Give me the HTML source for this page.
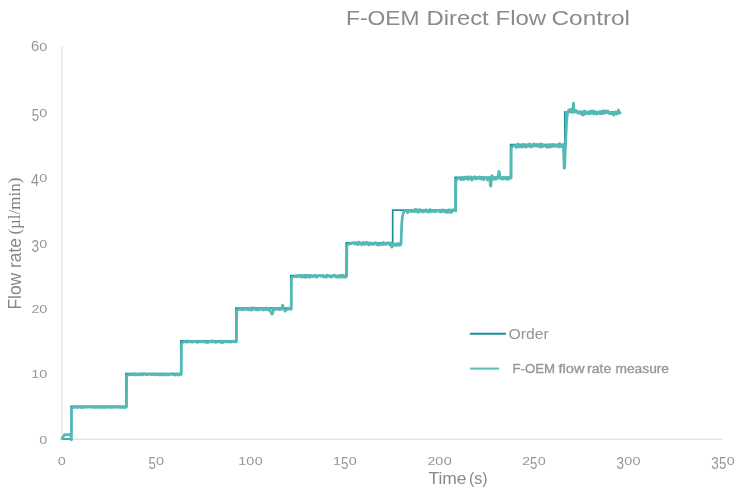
<!DOCTYPE html>
<html><head><meta charset="utf-8"><style>
html,body{margin:0;padding:0;background:#fff;width:748px;height:497px;overflow:hidden}
svg{display:block;will-change:transform}
.d{font-family:"Liberation Sans","DejaVu Sans",sans-serif;fill:#969696}
.title{font-family:"Liberation Sans","DejaVu Sans",sans-serif;font-size:19.5px;fill:#8a8a8a}
.axt{font-family:"Liberation Sans","DejaVu Sans",sans-serif;font-size:16.2px;fill:#8a8a8a}
.axt2{font-family:"Liberation Sans","DejaVu Sans",sans-serif;font-size:17.5px;fill:#8a8a8a}
.axs{font-family:"Liberation Serif","DejaVu Serif",serif;font-size:17.5px;fill:#808080}
.legb{font-family:"Liberation Sans","DejaVu Sans",sans-serif;font-size:13.6px;fill:#949494;stroke:#999;stroke-width:0.35px}
.leg{font-family:"Liberation Sans","DejaVu Sans",sans-serif;font-size:14.5px;fill:#949494}
</style></head><body>
<svg width="748" height="497" viewBox="0 0 748 497">
<text x="346.00" y="25" class="title" textLength="73.49" lengthAdjust="spacingAndGlyphs">F-OEM</text><text x="426.50" y="25" class="title" textLength="62.15" lengthAdjust="spacingAndGlyphs">Direct</text><text x="495.50" y="25" class="title" textLength="50.65" lengthAdjust="spacingAndGlyphs">Flow</text><text x="551.50" y="25" class="title" textLength="78.55" lengthAdjust="spacingAndGlyphs">Control</text>
<line x1="61.9" y1="46.5" x2="61.9" y2="439" stroke="#d9d9d9" stroke-width="1"/>
<line x1="61.5" y1="439.2" x2="722.8" y2="439.2" stroke="#d9d9d9" stroke-width="1"/>
<text class="d" font-size="11.30" transform="matrix(1.277 0 0 1 39.34 443.89)">0</text><text class="d" font-size="11.63" transform="matrix(1.237 0 0 1 31.20 378.10)">1</text><text class="d" font-size="11.30" transform="matrix(1.277 0 0 1 39.34 378.49)">0</text><text class="d" font-size="11.46" transform="matrix(1.226 0 0 1 31.39 313.20)">2</text><text class="d" font-size="11.30" transform="matrix(1.277 0 0 1 39.34 313.09)">0</text><text class="d" font-size="16.10" transform="matrix(0.838 0 0 1 31.59 251.64)">3</text><text class="d" font-size="11.30" transform="matrix(1.277 0 0 1 39.34 247.69)">0</text><text class="d" font-size="16.57" transform="matrix(0.862 0 0 1 30.97 186.40)">4</text><text class="d" font-size="11.30" transform="matrix(1.277 0 0 1 39.34 182.29)">0</text><text class="d" font-size="16.34" transform="matrix(0.813 0 0 1 31.67 120.84)">5</text><text class="d" font-size="11.30" transform="matrix(1.277 0 0 1 39.34 116.89)">0</text><text class="d" font-size="15.54" transform="matrix(0.949 0 0 1 30.95 51.45)">6</text><text class="d" font-size="11.30" transform="matrix(1.277 0 0 1 39.34 51.49)">0</text>
<text class="d" font-size="11.30" transform="matrix(1.277 0 0 1 57.79 465.09)">0</text><text class="d" font-size="16.34" transform="matrix(0.813 0 0 1 148.42 469.04)">5</text><text class="d" font-size="11.30" transform="matrix(1.277 0 0 1 156.09 465.09)">0</text><text class="d" font-size="11.63" transform="matrix(1.237 0 0 1 238.20 464.70)">1</text><text class="d" font-size="11.30" transform="matrix(1.277 0 0 1 246.34 465.09)">0</text><text class="d" font-size="11.30" transform="matrix(1.277 0 0 1 254.64 465.09)">0</text><text class="d" font-size="11.63" transform="matrix(1.237 0 0 1 332.95 464.70)">1</text><text class="d" font-size="16.34" transform="matrix(0.813 0 0 1 341.12 469.04)">5</text><text class="d" font-size="11.30" transform="matrix(1.277 0 0 1 348.79 465.09)">0</text><text class="d" font-size="11.46" transform="matrix(1.226 0 0 1 427.39 465.20)">2</text><text class="d" font-size="11.30" transform="matrix(1.277 0 0 1 435.34 465.09)">0</text><text class="d" font-size="11.30" transform="matrix(1.277 0 0 1 443.64 465.09)">0</text><text class="d" font-size="11.46" transform="matrix(1.226 0 0 1 522.14 465.20)">2</text><text class="d" font-size="16.34" transform="matrix(0.813 0 0 1 530.12 469.04)">5</text><text class="d" font-size="11.30" transform="matrix(1.277 0 0 1 537.79 465.09)">0</text><text class="d" font-size="16.10" transform="matrix(0.838 0 0 1 616.49 469.04)">3</text><text class="d" font-size="11.30" transform="matrix(1.277 0 0 1 624.24 465.09)">0</text><text class="d" font-size="11.30" transform="matrix(1.277 0 0 1 632.54 465.09)">0</text><text class="d" font-size="16.10" transform="matrix(0.838 0 0 1 711.24 469.04)">3</text><text class="d" font-size="16.34" transform="matrix(0.813 0 0 1 719.02 469.04)">5</text><text class="d" font-size="11.30" transform="matrix(1.277 0 0 1 726.69 465.09)">0</text>
<text transform="translate(21.0 309.6) rotate(-90)" class="axt2" textLength="71.6" lengthAdjust="spacingAndGlyphs">Flow rate</text>
<text transform="translate(20.3 234.6) rotate(-90)" class="axs" textLength="57" lengthAdjust="spacingAndGlyphs">(µl/min)</text>
<text x="428.50" y="483.6" class="axt" textLength="38.06" lengthAdjust="spacingAndGlyphs">Time</text><text x="469.00" y="483.6" class="axt" textLength="18.68" lengthAdjust="spacingAndGlyphs">(s)</text>
<path d="M61.8 439.0H71.2V406.3H126.0V373.6H180.8V340.9H236.0V308.2H290.8V275.5H346.2V242.8H392.7V210.1H455.2V177.4H510.6V144.7H564.8V112.0H620.0" fill="none" stroke="#1b91a0" stroke-width="1.7"/>
<path d="M62.00 438.70 L64.60 434.60 L65.40 434.58 L66.20 434.62 L67.00 434.77 L67.80 434.59 L68.60 434.60 L69.40 434.63 L70.20 434.47 L71.00 434.70 L71.40 439.80 L71.55 408.80 L72.45 407.95 L73.35 407.53 L74.25 407.31 L75.15 407.21 L76.05 407.20 L76.55 406.68 L77.05 407.26 L77.55 407.58 L78.05 406.99 L78.55 406.95 L79.05 406.81 L79.55 407.14 L80.05 407.23 L80.55 407.13 L81.05 407.57 L81.55 406.86 L82.05 406.84 L82.55 407.42 L83.05 407.17 L83.55 407.49 L84.05 406.96 L84.55 407.15 L85.05 407.15 L85.55 406.69 L86.05 406.79 L86.55 407.06 L87.05 407.21 L87.55 406.75 L88.05 407.11 L88.55 406.98 L89.05 407.14 L89.55 406.87 L90.05 406.95 L90.55 406.77 L91.05 407.12 L91.55 407.10 L92.05 407.19 L92.55 406.89 L93.05 407.20 L93.55 407.30 L94.05 407.52 L94.55 406.85 L95.05 407.41 L95.55 407.02 L96.05 406.93 L96.55 406.75 L97.05 407.32 L97.55 407.22 L98.05 406.83 L98.55 406.86 L99.05 406.90 L99.55 407.51 L100.05 406.97 L100.55 406.90 L101.05 407.35 L101.55 407.10 L102.05 407.36 L102.55 407.41 L103.05 407.40 L103.55 407.13 L104.05 407.41 L104.55 407.40 L105.05 407.06 L105.55 406.95 L106.05 407.39 L106.55 407.27 L107.05 407.30 L107.55 406.79 L108.05 406.96 L108.55 407.22 L109.05 406.75 L109.55 406.91 L110.05 407.29 L110.55 406.95 L111.05 407.21 L111.55 407.36 L112.05 406.89 L112.55 407.46 L113.05 407.29 L113.55 406.95 L114.05 407.07 L114.55 407.16 L115.05 406.87 L115.55 407.30 L116.05 407.17 L116.55 406.67 L117.05 406.78 L117.55 406.78 L118.05 407.13 L118.55 407.46 L119.05 406.81 L119.55 406.80 L120.05 406.79 L120.55 407.27 L121.05 407.32 L121.55 407.39 L122.05 407.16 L122.55 407.25 L123.05 407.30 L123.55 407.44 L124.05 407.01 L124.55 407.18 L125.05 407.60 L125.55 407.15 L126.50 407.10 L126.50 407.10 L126.65 376.20 L127.55 375.30 L128.45 374.85 L129.35 374.63 L130.25 374.51 L131.15 374.87 L131.65 373.98 L132.15 374.51 L132.65 374.66 L133.15 374.11 L133.65 373.93 L134.15 374.79 L134.65 374.99 L135.15 373.91 L135.65 374.31 L136.15 374.55 L136.65 374.28 L137.15 374.82 L137.65 374.90 L138.15 374.11 L138.65 374.50 L139.15 374.48 L139.65 374.52 L140.15 373.95 L140.65 374.92 L141.15 374.23 L141.65 374.84 L142.15 374.16 L142.65 374.80 L143.15 373.74 L143.65 374.48 L144.15 374.47 L144.65 373.95 L145.15 374.09 L145.65 374.26 L146.15 374.01 L146.65 374.66 L147.15 374.54 L147.65 374.87 L148.15 374.29 L148.65 374.40 L149.15 374.02 L149.65 374.14 L150.15 374.29 L150.65 374.21 L151.15 374.29 L151.65 374.75 L152.15 374.72 L152.65 373.83 L153.15 373.96 L153.65 374.25 L154.15 374.37 L154.65 374.56 L155.15 374.92 L155.65 374.22 L156.15 374.21 L156.65 374.61 L157.15 374.40 L157.65 373.99 L158.15 374.14 L158.65 374.76 L159.15 374.34 L159.65 374.90 L160.15 374.98 L160.65 374.81 L161.15 374.93 L161.65 374.71 L162.15 373.91 L162.65 373.91 L163.15 374.58 L163.65 374.57 L164.15 374.44 L164.65 375.01 L165.15 374.66 L165.65 374.51 L166.15 374.06 L166.65 374.07 L167.15 374.82 L167.65 375.05 L168.15 374.50 L168.65 374.43 L169.15 374.71 L169.65 374.10 L170.15 374.08 L170.65 374.41 L171.15 374.26 L171.65 374.19 L172.15 373.69 L172.65 374.10 L173.15 374.73 L173.65 374.89 L174.15 374.78 L174.65 374.80 L175.15 374.90 L175.65 375.01 L176.15 374.04 L176.65 373.97 L177.15 374.06 L177.65 374.31 L178.15 374.42 L178.65 375.12 L179.15 374.14 L179.65 374.68 L180.15 374.25 L181.30 374.40 L181.30 374.40 L181.45 343.60 L182.35 342.65 L183.25 342.18 L184.15 341.94 L185.05 341.82 L185.95 341.98 L186.45 341.39 L186.95 342.20 L187.45 341.00 L187.95 341.71 L188.45 341.05 L188.95 341.77 L189.45 341.49 L189.95 341.98 L190.45 341.39 L190.95 341.90 L191.45 341.46 L191.95 342.03 L192.45 342.04 L192.95 341.38 L193.45 341.84 L193.95 341.85 L194.45 341.38 L194.95 341.22 L195.45 341.62 L195.95 341.21 L196.45 341.78 L196.95 342.17 L197.45 342.42 L197.95 341.94 L198.45 341.92 L198.95 341.26 L199.45 341.43 L199.95 341.45 L200.45 341.92 L200.95 341.55 L201.45 341.22 L201.95 341.98 L202.45 341.84 L202.95 341.71 L203.45 341.42 L203.95 341.07 L204.45 341.97 L204.95 341.46 L205.45 341.93 L205.95 342.38 L206.45 341.93 L206.95 342.34 L207.45 342.19 L207.95 342.49 L208.45 341.98 L208.95 342.03 L209.45 341.55 L209.95 341.28 L210.45 341.71 L210.95 340.89 L211.45 341.87 L211.95 341.15 L212.45 341.87 L212.95 341.06 L213.45 341.91 L213.95 341.06 L214.45 341.98 L214.95 342.00 L215.45 342.31 L215.95 341.94 L216.45 341.34 L216.95 342.05 L217.45 341.83 L217.95 341.59 L218.45 341.73 L218.95 341.88 L219.45 341.08 L219.95 342.24 L220.45 342.26 L220.95 341.15 L221.45 342.39 L221.95 341.15 L222.45 341.16 L222.95 342.48 L223.45 341.53 L223.95 342.21 L224.45 341.35 L224.95 341.32 L225.45 341.20 L225.95 341.69 L226.45 341.73 L226.95 341.98 L227.45 341.65 L227.95 341.89 L228.45 341.65 L228.95 342.01 L229.45 341.39 L229.95 341.33 L230.45 341.69 L230.95 342.11 L231.45 341.80 L231.95 341.80 L232.45 341.34 L232.95 341.38 L233.45 341.54 L233.95 341.06 L234.45 341.29 L234.95 341.89 L235.45 342.00 L236.50 341.70 L236.50 341.70 L236.65 311.00 L237.55 310.00 L238.45 309.50 L239.35 309.25 L240.25 309.13 L241.15 308.56 L241.65 309.71 L242.15 309.06 L242.65 308.73 L243.15 308.31 L243.65 309.68 L244.15 308.80 L244.65 309.00 L245.15 308.79 L245.65 309.31 L246.15 308.81 L246.65 308.17 L247.15 309.14 L247.65 309.59 L248.15 308.46 L248.65 309.70 L249.15 309.19 L249.65 310.00 L250.15 308.46 L250.65 309.54 L251.15 309.39 L251.65 307.92 L252.15 310.08 L252.65 308.90 L253.15 309.01 L253.65 308.06 L254.15 308.41 L254.65 308.37 L255.15 309.10 L255.65 308.17 L256.15 309.77 L256.65 309.02 L257.15 309.53 L257.65 310.14 L258.15 308.85 L258.65 309.67 L259.15 309.01 L259.65 308.61 L260.15 309.55 L260.65 308.52 L261.15 308.38 L261.65 308.71 L262.15 308.81 L262.65 308.48 L263.15 309.98 L263.65 309.70 L264.15 308.72 L264.65 309.59 L265.15 308.65 L265.65 307.97 L266.15 308.70 L266.65 309.38 L267.15 308.66 L267.65 309.54 L268.15 309.92 L268.65 308.64 L269.15 309.65 L269.65 308.63 L270.15 310.56 L270.65 311.58 L271.15 312.09 L271.65 313.96 L272.15 314.12 L272.65 313.34 L273.15 310.90 L273.65 309.07 L274.15 309.39 L274.65 309.50 L275.15 308.68 L275.65 309.22 L276.15 308.56 L276.65 308.83 L277.15 308.92 L277.65 309.16 L278.15 309.16 L278.65 309.12 L279.15 309.52 L279.65 309.56 L280.15 308.86 L280.65 309.24 L281.15 309.45 L281.65 308.52 L282.15 306.79 L282.65 305.08 L283.15 307.30 L283.65 309.21 L284.15 309.36 L284.65 309.94 L285.15 311.12 L285.65 310.05 L286.15 309.98 L286.65 309.94 L287.15 309.31 L287.65 308.30 L288.15 308.24 L288.65 308.97 L289.15 308.34 L289.65 308.53 L290.15 309.45 L291.30 309.00 L291.30 309.00 L291.45 278.40 L292.35 277.35 L293.25 276.83 L294.15 276.56 L295.05 276.43 L295.95 275.88 L296.45 276.91 L296.95 276.87 L297.45 276.08 L297.95 275.83 L298.45 275.93 L298.95 275.52 L299.45 276.78 L299.95 275.71 L300.45 276.41 L300.95 276.35 L301.45 275.46 L301.95 275.49 L302.45 277.28 L302.95 276.37 L303.45 276.07 L303.95 275.85 L304.45 275.31 L304.95 276.09 L305.45 277.56 L305.95 275.41 L306.45 276.44 L306.95 275.05 L307.45 276.49 L307.95 275.57 L308.45 277.20 L308.95 276.68 L309.45 275.64 L309.95 277.08 L310.45 276.00 L310.95 275.31 L311.45 276.08 L311.95 275.96 L312.45 276.68 L312.95 276.22 L313.45 275.96 L313.95 276.14 L314.45 275.64 L314.95 275.22 L315.45 276.90 L315.95 276.28 L316.45 275.98 L316.95 277.22 L317.45 276.26 L317.95 275.76 L318.45 275.84 L318.95 275.58 L319.45 275.61 L319.95 275.39 L320.45 275.81 L320.95 276.23 L321.45 275.75 L321.95 275.85 L322.45 276.34 L322.95 275.45 L323.45 276.94 L323.95 276.41 L324.45 276.71 L324.95 276.88 L325.45 276.56 L325.95 276.20 L326.45 277.20 L326.95 275.21 L327.45 276.14 L327.95 275.29 L328.45 276.18 L328.95 276.16 L329.45 276.41 L329.95 276.77 L330.45 276.99 L330.95 277.05 L331.45 277.07 L331.95 276.78 L332.45 276.24 L332.95 276.07 L333.45 275.54 L333.95 275.47 L334.45 274.97 L334.95 276.42 L335.45 276.60 L335.95 276.95 L336.45 276.02 L336.95 276.08 L337.45 276.50 L337.95 277.20 L338.45 276.51 L338.95 276.92 L339.45 275.62 L339.95 275.30 L340.45 277.02 L340.95 275.67 L341.45 276.75 L341.95 277.08 L342.45 275.17 L342.95 276.81 L343.45 275.72 L343.95 276.07 L344.45 276.94 L344.95 276.33 L345.45 277.26 L346.70 276.30 L346.70 276.30 L346.85 245.80 L347.75 244.70 L348.65 244.15 L349.55 243.88 L350.45 243.74 L351.35 243.66 L351.85 242.92 L352.35 242.78 L352.85 242.92 L353.35 242.75 L353.85 242.90 L354.35 242.45 L354.85 244.03 L355.35 243.24 L355.85 243.20 L356.35 243.56 L356.85 242.78 L357.35 244.02 L357.85 244.71 L358.35 244.26 L358.85 242.06 L359.35 242.75 L359.85 242.85 L360.35 242.94 L360.85 244.08 L361.35 244.26 L361.85 244.85 L362.35 242.97 L362.85 244.16 L363.35 242.42 L363.85 243.37 L364.35 244.28 L364.85 243.41 L365.35 242.81 L365.85 244.10 L366.35 243.60 L366.85 242.38 L367.35 243.10 L367.85 243.29 L368.35 244.65 L368.85 243.11 L369.35 244.94 L369.85 243.07 L370.35 242.86 L370.85 244.23 L371.35 243.38 L371.85 243.91 L372.35 243.32 L372.85 244.47 L373.35 243.71 L373.85 244.10 L374.35 243.15 L374.85 243.88 L375.35 242.63 L375.85 244.17 L376.35 243.16 L376.85 244.16 L377.35 244.86 L377.85 243.12 L378.35 243.36 L378.85 245.00 L379.35 243.67 L379.85 244.38 L380.35 244.27 L380.85 244.03 L381.35 243.65 L381.85 244.04 L382.35 244.70 L382.85 244.20 L383.35 242.46 L383.85 242.73 L384.35 243.84 L384.85 243.68 L385.35 244.52 L385.85 243.31 L386.35 244.00 L386.85 242.99 L387.35 243.13 L387.85 243.74 L388.35 242.90 L388.85 242.83 L389.35 243.53 L389.85 244.98 L390.35 243.10 L390.85 242.86 L391.35 244.44 L391.85 247.15 L392.50 243.60 L393.20 244.33 L393.70 244.04 L394.20 245.27 L394.70 245.44 L395.20 244.28 L395.70 244.03 L396.20 245.39 L396.70 244.53 L397.20 243.70 L397.70 244.34 L398.20 245.26 L398.70 243.51 L399.20 244.17 L399.70 244.94 L400.20 245.14 L401.00 244.20 L401.30 236.26 L401.70 224.49 L402.30 217.29 L403.20 213.37 L404.40 211.08 L405.80 210.90 L406.60 210.68 L407.10 210.66 L407.60 212.84 L408.10 211.02 L408.60 211.45 L409.10 210.85 L409.60 210.36 L410.10 210.21 L410.60 210.90 L411.10 211.56 L411.60 210.72 L412.10 211.26 L412.60 210.34 L413.10 211.39 L413.60 210.71 L414.10 211.47 L414.60 209.72 L415.10 209.72 L415.60 211.32 L416.10 209.53 L416.60 211.29 L417.10 209.92 L417.60 212.02 L418.10 211.84 L418.60 210.02 L419.10 212.05 L419.60 209.69 L420.10 210.14 L420.60 211.17 L421.10 210.16 L421.60 210.13 L422.10 211.30 L422.60 212.07 L423.10 211.66 L423.60 211.20 L424.10 210.59 L424.60 210.33 L425.10 211.41 L425.60 210.72 L426.10 209.65 L426.60 210.84 L427.10 210.40 L427.60 211.74 L428.10 212.02 L428.60 210.50 L429.10 210.97 L429.60 210.79 L430.10 209.51 L430.60 211.86 L431.10 210.63 L431.60 210.52 L432.10 210.58 L432.60 211.38 L433.10 211.29 L433.60 211.48 L434.10 210.26 L434.60 210.89 L435.10 211.23 L435.60 211.82 L436.10 210.86 L436.60 210.41 L437.10 210.30 L437.60 210.34 L438.10 210.41 L438.60 210.84 L439.10 211.65 L439.60 210.96 L440.10 211.43 L440.60 210.77 L441.10 212.11 L441.60 210.53 L442.10 211.30 L442.60 209.77 L443.10 210.62 L443.60 210.96 L444.10 210.60 L444.60 212.12 L445.10 210.23 L445.60 210.54 L446.10 211.78 L446.60 210.87 L447.10 212.38 L447.60 210.85 L448.10 210.03 L448.60 209.96 L449.10 210.62 L449.60 212.48 L450.10 209.90 L450.60 210.27 L451.10 210.23 L451.60 212.38 L452.10 211.10 L452.60 210.85 L453.10 209.73 L453.60 210.63 L454.10 209.98 L454.60 209.98 L455.70 210.90 L455.70 210.90 L455.85 180.60 L456.75 179.40 L457.65 178.80 L458.55 178.50 L459.45 178.35 L460.35 178.26 L460.85 179.62 L461.35 178.56 L461.85 179.27 L462.35 177.52 L462.85 177.84 L463.35 178.16 L463.85 179.50 L464.35 177.94 L464.85 177.65 L465.35 177.01 L465.85 178.48 L466.35 177.61 L466.85 177.86 L467.35 179.00 L467.85 179.46 L468.35 176.76 L468.85 178.14 L469.35 177.47 L469.85 177.77 L470.35 178.84 L470.85 176.86 L471.35 179.58 L471.85 180.16 L472.35 178.97 L472.85 178.72 L473.35 178.53 L473.85 178.25 L474.35 177.86 L474.85 176.75 L475.35 178.81 L475.85 178.75 L476.35 177.69 L476.85 178.90 L477.35 177.58 L477.85 177.64 L478.35 177.86 L478.85 177.51 L479.35 176.99 L479.85 178.61 L480.35 178.44 L480.85 177.57 L481.35 177.12 L481.85 179.25 L482.35 178.17 L482.85 177.16 L483.35 179.32 L483.85 179.68 L484.35 177.70 L484.85 177.90 L485.35 177.91 L485.85 177.98 L486.35 177.70 L486.85 178.77 L487.35 180.05 L487.85 177.82 L488.35 178.92 L488.85 177.69 L489.35 179.19 L489.85 177.81 L490.35 185.59 L490.85 186.09 L491.35 179.30 L491.85 175.68 L492.35 176.39 L492.85 176.88 L493.35 179.31 L493.85 177.16 L494.35 178.31 L494.85 178.49 L495.35 178.22 L495.85 179.34 L496.35 177.22 L496.85 177.24 L497.35 176.88 L497.85 178.30 L498.35 175.75 L498.85 171.27 L499.35 172.37 L499.85 176.95 L500.35 178.39 L500.85 178.31 L501.35 178.16 L501.85 178.97 L502.35 179.07 L502.85 178.66 L503.35 177.45 L503.85 177.11 L504.35 178.74 L504.85 177.69 L505.35 178.05 L505.85 178.17 L506.35 178.30 L506.85 179.26 L507.35 177.07 L507.85 179.16 L508.35 179.26 L508.85 178.74 L509.35 178.27 L509.85 177.80 L511.10 178.20 L511.10 178.20 L511.25 148.00 L512.15 146.75 L513.05 146.13 L513.95 145.81 L514.85 145.66 L515.75 145.25 L516.25 147.57 L516.75 146.93 L517.25 146.42 L517.75 145.06 L518.25 143.89 L518.75 146.92 L519.25 146.54 L519.75 146.11 L520.25 146.15 L520.75 146.84 L521.25 145.73 L521.75 144.77 L522.25 146.82 L522.75 147.00 L523.25 144.53 L523.75 144.48 L524.25 146.44 L524.75 145.14 L525.25 144.87 L525.75 147.12 L526.25 147.01 L526.75 146.60 L527.25 144.79 L527.75 145.36 L528.25 145.82 L528.75 144.51 L529.25 144.11 L529.75 144.00 L530.25 146.94 L530.75 144.92 L531.25 146.47 L531.75 146.39 L532.25 146.77 L532.75 145.27 L533.25 145.54 L533.75 143.84 L534.25 145.24 L534.75 145.35 L535.25 146.03 L535.75 144.71 L536.25 145.83 L536.75 144.92 L537.25 144.35 L537.75 146.31 L538.25 145.72 L538.75 145.34 L539.25 144.52 L539.75 144.74 L540.25 147.23 L540.75 146.07 L541.25 143.86 L541.75 146.55 L542.25 145.33 L542.75 146.55 L543.25 144.98 L543.75 144.97 L544.25 145.12 L544.75 145.75 L545.25 145.98 L545.75 146.45 L546.25 146.26 L546.75 147.21 L547.25 145.18 L547.75 146.85 L548.25 144.74 L548.75 145.27 L549.25 145.47 L549.75 147.13 L550.25 144.54 L550.75 146.52 L551.25 146.66 L551.75 145.70 L552.25 146.22 L552.75 144.48 L553.25 146.42 L553.75 145.73 L554.25 144.99 L554.75 146.10 L555.25 145.01 L555.75 145.89 L556.25 146.02 L556.75 145.68 L557.25 146.61 L557.75 144.77 L558.25 145.02 L558.75 145.45 L559.25 146.83 L559.75 143.72 L560.25 146.41 L560.75 145.19 L561.25 146.55 L561.75 146.16 L562.25 146.36 L562.75 145.18 L563.25 146.31 L563.75 144.49 L564.25 144.72 L562.80 146.10 L563.50 149.00 L564.20 168.20 L564.60 168.20 L565.70 140.00 L566.60 121.00 L567.40 114.00 L568.60 110.30 L569.00 109.88 L569.50 111.30 L570.00 109.72 L570.50 111.92 L571.00 110.20 L571.50 109.10 L572.00 112.35 L572.50 109.19 L573.00 111.89 L573.50 103.07 L574.00 111.66 L574.50 112.28 L575.00 111.52 L575.50 110.97 L576.00 110.47 L576.50 111.24 L577.00 111.13 L577.50 112.42 L578.00 113.38 L578.50 112.82 L579.00 111.91 L579.50 112.80 L580.00 112.90 L580.50 111.57 L581.00 112.30 L581.50 114.30 L582.00 113.38 L582.50 112.67 L583.00 115.04 L583.50 111.38 L584.00 112.56 L584.50 114.40 L585.00 111.21 L585.50 111.49 L586.00 111.89 L586.50 112.84 L587.00 112.57 L587.50 113.93 L588.00 112.40 L588.50 112.60 L589.00 111.63 L589.50 111.39 L590.00 113.91 L590.50 113.29 L591.00 113.30 L591.50 111.11 L592.00 110.87 L592.50 112.97 L593.00 111.96 L593.50 113.82 L594.00 111.17 L594.50 113.83 L595.00 112.21 L595.50 112.11 L596.00 112.56 L596.50 112.04 L597.00 114.17 L597.50 113.32 L598.00 112.27 L598.50 111.94 L599.00 111.58 L599.50 111.93 L600.00 113.84 L600.50 113.15 L601.00 111.82 L601.50 111.25 L602.00 112.08 L602.50 113.75 L603.00 113.41 L603.50 110.73 L604.00 111.48 L604.50 111.28 L605.00 113.09 L605.50 110.92 L606.00 111.31 L606.50 111.35 L607.00 112.07 L607.50 112.67 L608.00 111.03 L608.50 112.13 L609.00 113.02 L609.50 113.76 L610.00 113.59 L610.50 113.45 L611.00 112.68 L611.50 113.59 L612.00 113.11 L612.50 112.27 L613.00 114.00 L613.50 114.87 L614.00 115.03 L614.50 113.44 L615.00 112.14 L615.50 113.41 L616.00 111.98 L616.50 112.09 L617.00 114.04 L617.50 113.50 L618.00 111.67 L618.50 110.03 L619.00 112.51 L619.50 113.03 L620.00 112.80" fill="none" stroke="#54b9b5" stroke-width="2.75" stroke-linejoin="round" stroke-linecap="round"/>
<line x1="469.8" y1="333.7" x2="505.9" y2="333.7" stroke="#1b91a0" stroke-width="2.0"/>
<text x="508.50" y="338.8" class="leg" textLength="40.18" lengthAdjust="spacingAndGlyphs">Order</text>
<line x1="470.1" y1="368.6" x2="499.1" y2="368.6" stroke="#62bebd" stroke-width="2.1"/>
<text x="512.50" y="373.0" class="legb" textLength="42.55" lengthAdjust="spacingAndGlyphs">F-OEM</text><text x="558.50" y="373.0" class="legb" textLength="26.02" lengthAdjust="spacingAndGlyphs">flow</text><text x="587.00" y="373.0" class="legb" textLength="24.31" lengthAdjust="spacingAndGlyphs">rate</text><text x="615.50" y="373.0" class="legb" textLength="53.52" lengthAdjust="spacingAndGlyphs">measure</text>
</svg>
</body></html>
